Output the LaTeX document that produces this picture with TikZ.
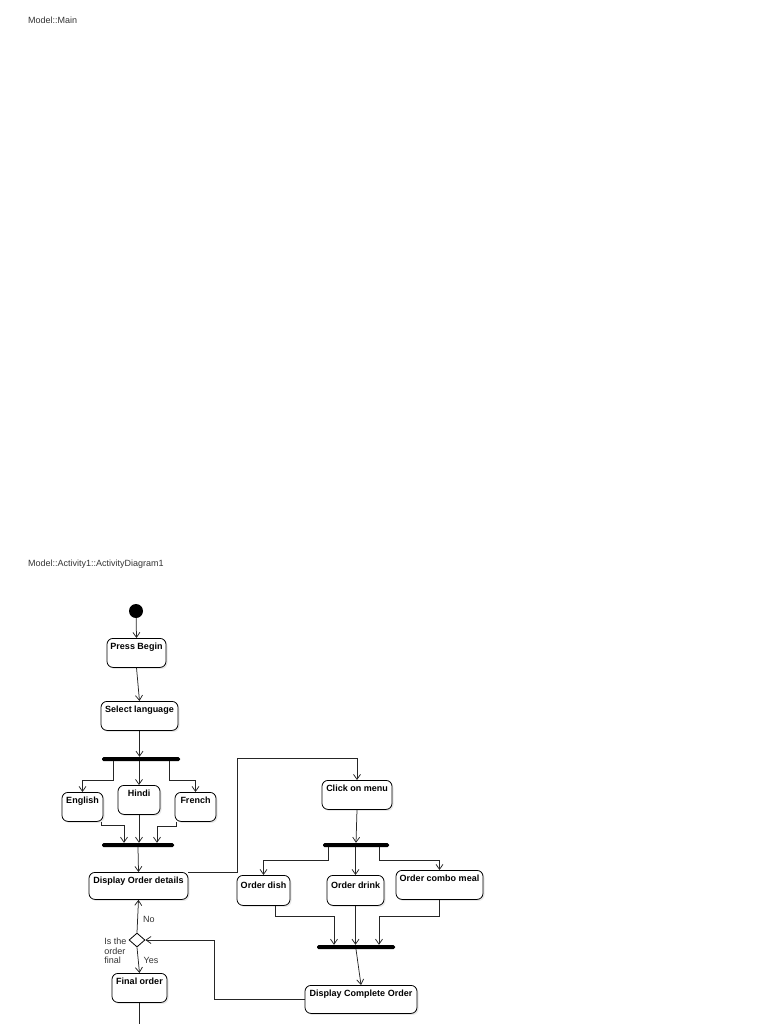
\documentclass[tikz,border=0pt]{standalone}
\usepackage{fontspec}
\setmainfont{Liberation Sans}
\usetikzlibrary{calc,positioning,shapes.geometric,arrows.meta,shadows}

\begin{document}
\begin{tikzpicture}[x=1pt, y=-1pt,
    act/.style={draw=black, line width=0.8pt, fill=white, rounded corners=6pt, font=\fontsize{9}{10}\selectfont\bfseries,
      inner xsep=2pt, inner ysep=4pt, text height=7pt, text depth=14pt, anchor=north,
      drop shadow={shadow xshift=1.5pt, shadow yshift=-1.5pt, opacity=0.18}},
    bar/.style={fill=black, minimum height=4pt, inner sep=0pt, rounded corners=1.5pt},
    flow/.style={draw=black!85, line width=0.75pt, -{Straight Barb[length=5pt,width=7pt]}},
    wire/.style={draw=black!85, line width=0.75pt},
    lbl/.style={font=\fontsize{9}{9.5}\selectfont, text=black!80, inner sep=1pt}]
            \useasboundingbox (0,0) rectangle (768,1024);

            % Titles
            \node[lbl, anchor=west] (maintitle) at (27,20) {Model::Main};
            \node[lbl, anchor=west] (acttitle) at (27,564) {Model::Activity1::ActivityDiagram1};

            % Left column
            \node[circle, fill=black, minimum size=14pt, inner sep=0pt] (start) at (136,611) {};
            \node[act, minimum width=59pt] (press) at (136.5,638) {Press Begin};
            \node[act, minimum width=77pt] (lang) at (139.5,701) {Select language};
            \node[bar, minimum width=78pt] (bar1) at (141,759) {};
            \node[act, minimum width=41pt] (english) at (82.5,792) {English};
            \node[act, minimum width=42pt] (hindi) at (139,785) {Hindi};
            \node[act, minimum width=41pt] (french) at (195.5,792) {French};
            \node[bar, minimum width=72pt] (bar2) at (138,845) {};
            \node[act, minimum width=99pt, text depth=12pt] (dod) at (138.5,872) {Display Order details};
            \node[diamond, draw=black, line width=0.8pt, fill=white, minimum width=16pt, minimum height=14pt, inner sep=0pt] (dec) at (137,940) {};
            \node[lbl, anchor=north east, align=left] (declbl) at ([xshift=-1pt,yshift=3pt]dec.west) {Is the\\order\\final};
            \node[act, minimum width=55pt] (final) at (139.5,973) {Final order};
            \coordinate (offpage) at (final.south |- 0,1024);

            % Right column
            \node[act, minimum width=70pt] (click) at (357,780) {Click on menu};
            \node[bar, minimum width=66pt] (bar3) at (356,845) {};
            \node[act, minimum width=53pt, text height=9pt, text depth=13pt] (dish) at (263.5,875) {Order dish};
            \node[act, minimum width=57pt, text height=9pt, text depth=13pt] (drink) at (355.5,875) {Order drink};
            \node[act, minimum width=87pt] (combo) at (439.5,870) {Order combo meal};
            \node[bar, minimum width=78pt] (bar4) at (356,947) {};
            \node[act, minimum width=112pt, text depth=13pt] (dco) at (361,985) {Display Complete Order};

            % Edges of the left column
            \draw[flow] (start) -- (press.north);
            \draw[flow] (press.south) -- (lang.north);
            \draw[flow] (lang.south) -- (lang.south |- bar1.north);
            \draw[flow] ([xshift=-28pt]bar1.south) -- ++(0,19) -| (english.north);
            \draw[flow] (bar1.south -| hindi.north) -- (hindi.north);
            \draw[flow] ([xshift=28pt]bar1.south) -- ++(0,19) -| (french.north);
            \draw[flow] ([xshift=-2pt]english.south east) -- ++(0,4) -| ([xshift=-14pt]bar2.north);
            \draw[flow] (hindi.south) -- (hindi.south |- bar2.north);
            \draw[flow] ([xshift=2pt]french.south west) -- ++(0,5) -| ([xshift=19pt]bar2.north);
            \draw[flow] (bar2.south) -- (dod.north);
            \draw[flow] (dec.north) -- node[lbl, right, xshift=4pt, yshift=-3pt] {No} (dod.south);
            \draw[flow] (dec.south) -- node[lbl, right, xshift=4pt] {Yes} (final.north);
            \draw[wire] (final.south) -- (offpage);

            % Edges of the right column
            \draw[flow] (dod.north east) -- ++(49,0) |- ($(click.north)+(0,-22)$) -- (click.north);
            \draw[flow] (click.south) -- (bar3.north);
            \draw[flow] ([xshift=-28pt]bar3.south) -- ++(0,13) -| (dish.north);
            \draw[flow] (bar3.south -| drink.north) -- (drink.north);
            \draw[flow] ([xshift=23pt]bar3.south) -- ++(0,13) -| (combo.north);
            \draw[flow] ([xshift=12pt]dish.south) |- ([xshift=-22pt,yshift=28pt]bar4.north) -- ([xshift=-22pt]bar4.north);
            \draw[flow] (drink.south) -- (drink.south |- bar4.north);
            \draw[flow] (combo.south) |- ([xshift=23pt,yshift=28pt]bar4.north) -- ([xshift=23pt]bar4.north);
            \draw[flow] (bar4.south) -- (dco.north);
            \draw[flow] (dco.west) -| ($(dec.east)+(69,0)$) -- (dec.east);
\end{tikzpicture}
\end{document}
